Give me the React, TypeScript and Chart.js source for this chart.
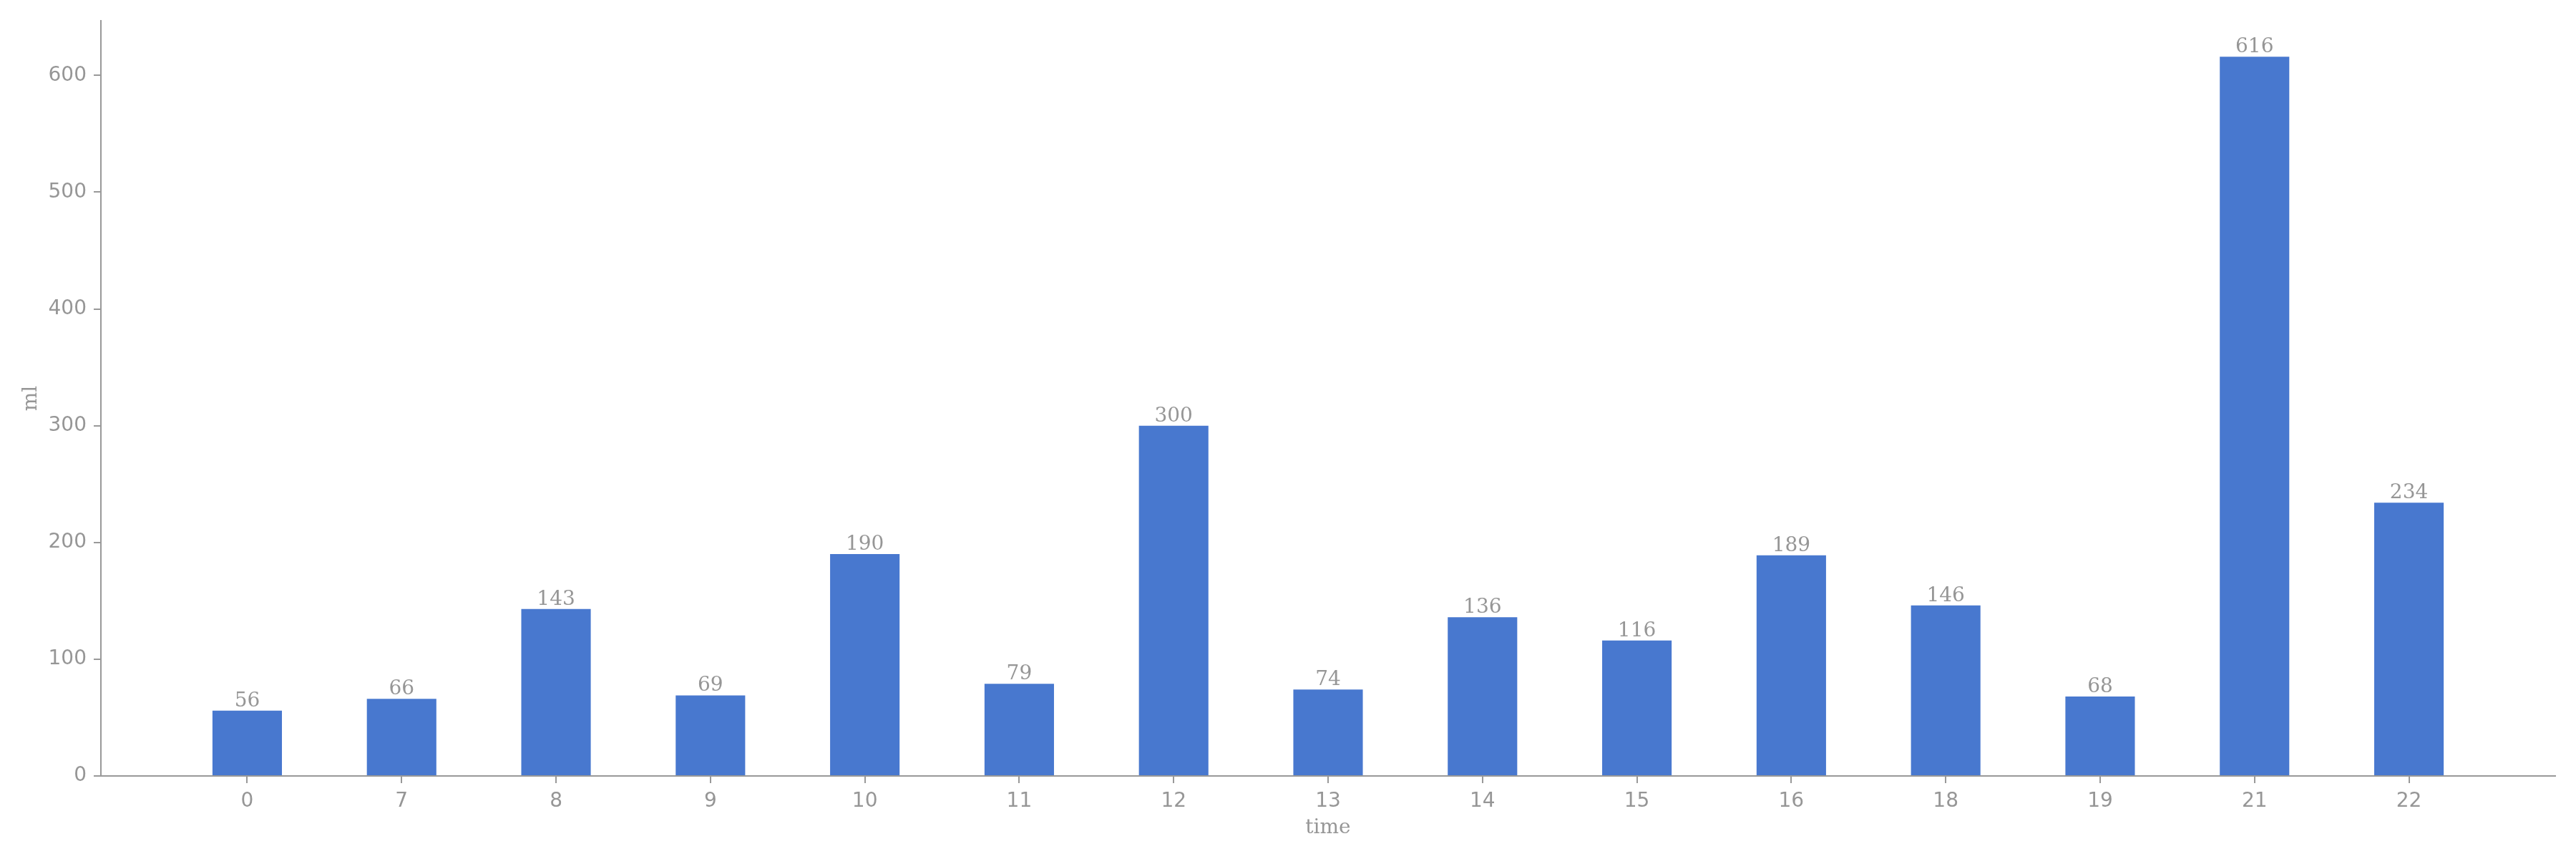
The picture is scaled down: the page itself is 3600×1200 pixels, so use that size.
import React, { useEffect, useRef } from "react";
import { Chart, registerables } from "chart.js";

Chart.register(...registerables);

const categories = ["0", "7", "8", "9", "10", "11", "12", "13", "14", "15", "16", "18", "19", "21", "22"];
const values = [56, 66, 143, 69, 190, 79, 300, 74, 136, 116, 189, 146, 68, 616, 234];
const yTicks = [0, 100, 200, 300, 400, 500, 600];
const xTitle = "time";
const yTitle = "ml";

const GRAY = "#999999";
const TEXT = "#969696";
const BAR = "#4878CF";

const valueLabels = {
  id: "valueLabels",
  afterDatasetsDraw(chart: any) {
    const ctx = chart.ctx;
    const meta = chart.getDatasetMeta(0);
    ctx.save();
    ctx.font = '28px "DejaVu Serif"';
    ctx.fillStyle = TEXT;
    ctx.textAlign = "center";
    ctx.textBaseline = "alphabetic";
    meta.data.forEach((el: any, i: number) => {
      ctx.fillText(String(values[i]), el.x, el.y - 6);
    });
    ctx.restore();
  },
};

export default function App() {
  const ref = useRef<HTMLCanvasElement | null>(null);

  useEffect(() => {
    if (!ref.current) return;
    const chart = new Chart(ref.current, {
      type: "bar",
      data: {
        datasets: [
          {
            data: values.map((v, i) => ({ x: i, y: v })),
            backgroundColor: BAR,
            borderWidth: 0,
            categoryPercentage: 1,
            barPercentage: 0.45,
          },
        ],
      },
      plugins: [valueLabels],
      options: {
        animation: false,
        responsive: false,
        maintainAspectRatio: false,
        devicePixelRatio: 1,
        layout: { padding: { top: 29, right: 29, left: 0, bottom: 0 } },
        plugins: {
          legend: { display: false },
          tooltip: { enabled: false },
        },
        scales: {
          x: {
            type: "linear",
            min: -0.9475,
            max: 14.9475,
            offset: false,
            afterBuildTicks: (s: any) => {
              s.ticks = categories.map((_, i) => ({ value: i }));
            },
            afterFit: (s: any) => {
              s.height = 116;
            },
            ticks: {
              callback: (v: any) => categories[v as number],
              color: TEXT,
              font: { family: "DejaVu Sans", size: 28 },
              padding: 9,
              maxRotation: 0,
              autoSkip: false,
            },
            grid: {
              display: true,
              offset: false,
              drawOnChartArea: false,
              drawTicks: true,
              tickLength: 10,
              color: GRAY,
              lineWidth: 2,
            },
            border: { display: true, color: GRAY, width: 2 },
            title: {
              display: true,
              text: xTitle,
              color: TEXT,
              font: { family: "DejaVu Serif", size: 28 },
              padding: { top: 0, bottom: 26 },
            },
          },
          y: {
            type: "linear",
            min: 0,
            max: 646.8,
            afterBuildTicks: (s: any) => {
              s.ticks = yTicks.map((v) => ({ value: v }));
            },
            afterFit: (s: any) => {
              s.width = 141;
            },
            ticks: {
              color: TEXT,
              font: { family: "DejaVu Sans", size: 28 },
              padding: 10,
            },
            grid: {
              display: true,
              offset: false,
              drawOnChartArea: false,
              drawTicks: true,
              tickLength: 10,
              color: GRAY,
              lineWidth: 2,
            },
            border: { display: true, color: GRAY, width: 2 },
            title: {
              display: true,
              text: yTitle,
              color: TEXT,
              font: { family: "DejaVu Serif", size: 28 },
              padding: { top: 27, bottom: 0 },
            },
          },
        },
      } as any,
    });
    return () => chart.destroy();
  }, []);

  return (
    <div style={{ position: "absolute", left: 0, top: 0, width: 3600, height: 1200, background: "#fff" }}>
      <canvas ref={ref} width={3600} height={1200} style={{ display: "block", width: 3600, height: 1200 }} />
    </div>
  );
}
